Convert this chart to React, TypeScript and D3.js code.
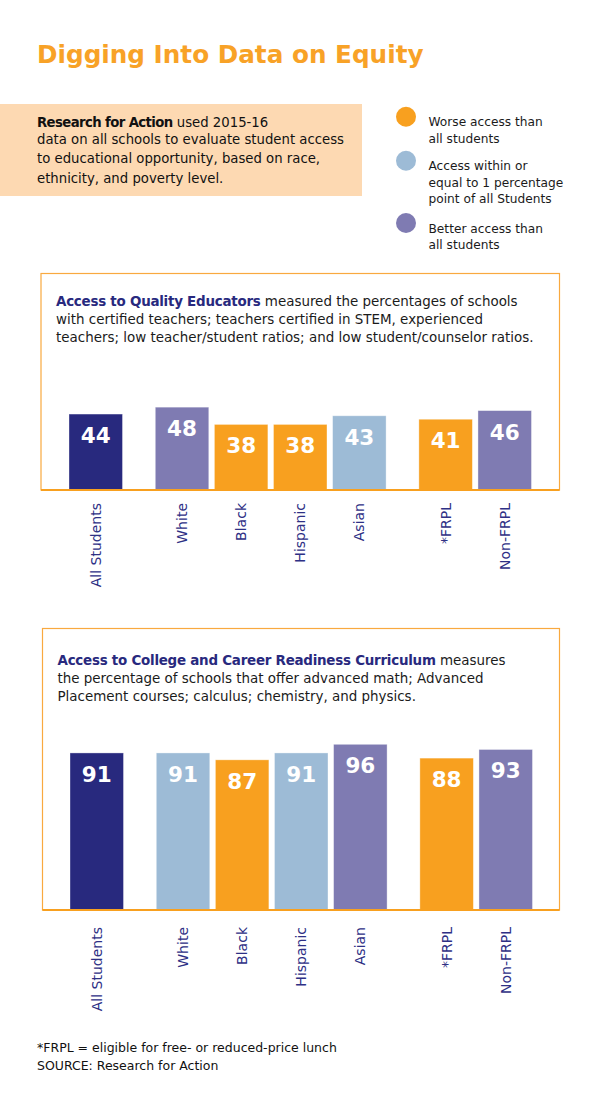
import * as d3 from "d3";

// --- data ---
const categories = ["All Students", "White", "Black", "Hispanic", "Asian", "*FRPL", "Non-FRPL"];
const categoryGroup = [0, 1, 1, 1, 1, 2, 2];

const educatorsValues = [44, 48, 38, 38, 43, 41, 46];
const educatorsAccess = ["all", "better", "worse", "worse", "within", "worse", "better"];

const curriculumValues = [91, 91, 87, 91, 96, 88, 93];
const curriculumAccess = ["all", "within", "worse", "within", "better", "worse", "better"];

const legendKeys = ["worse", "within", "better"];
const legendLines = [
  ["Worse access than", "all students"],
  ["Access within or", "equal to 1 percentage", "point of all Students"],
  ["Better access than", "all students"],
];

const introLines = [
  "data on all schools to evaluate student access",
  "to educational opportunity, based on race,",
  "ethnicity, and poverty level.",
];

const FONT = "'DejaVu Sans', sans-serif";
const NAVY = "#28297E";
const ORANGE = "#F8A01F";

const color = d3
  .scaleOrdinal<string, string>()
  .domain(["all", "worse", "within", "better"])
  .range([NAVY, ORANGE, "#9DBBD6", "#7F7BB2"]);

type PanelProps = {
  left: number;
  top: number;
  base: number;
  barX0: number;
  labelGap: number;
  textTop: number;
  bold: string;
  rest: string;
  lines: string[];
  values: number[];
  access: string[];
};

const BAR = { step: 59.1, width: 53.5, groupGap: 0.46, pxPer100: 172.6 };
const PANEL_RIGHT = 559.5;
const PANEL_FONT = 13.45;

function Panel(p: PanelProps) {
  const slot = d3.scaleLinear().domain([0, 1]).range([p.barX0, p.barX0 + BAR.step]);
  const y = d3.scaleLinear().domain([0, 100]).range([p.base, p.base - BAR.pxPer100]);
  const xOf = (i: number) => slot(i + categoryGroup[i] * BAR.groupGap);

  return (
    <g>
      <rect
        x={p.left}
        y={p.top}
        width={PANEL_RIGHT - p.left}
        height={p.base - p.top}
        fill="#fff"
        stroke="#F9A93F"
        strokeWidth={1.2}
      />
      <text x={p.left + 15} y={p.textTop} fontFamily={FONT} fontSize={PANEL_FONT} fill="#1b1b1b">
        <tspan fontWeight="bold" fill={NAVY} letterSpacing={-0.25}>
          {p.bold}
        </tspan>
        <tspan>{p.rest}</tspan>
      </text>
      {p.lines.map((l, i) => (
        <text
          key={i}
          x={p.left + 15}
          y={p.textTop + (i + 1) * 18}
          fontFamily={FONT}
          fontSize={PANEL_FONT}
          fill="#1b1b1b"
        >
          {l}
        </text>
      ))}
      {p.values.map((v, i) => (
        <g key={i}>
          <rect
            x={xOf(i)}
            y={y(v)}
            width={BAR.width}
            height={p.base - y(v)}
            fill={color(p.access[i])}
            stroke="#ffffff"
            strokeOpacity={0.45}
            strokeWidth={0.8}
          />
          <text
            x={xOf(i) + BAR.width / 2}
            y={y(v) + 29}
            textAnchor="middle"
            fontFamily={FONT}
            fontWeight="bold"
            fontSize={21.5}
            fill="#fff"
          >
            {v}
          </text>
          <text
            transform={`translate(${xOf(i) + BAR.width / 2},${p.base + p.labelGap}) rotate(-90)`}
            textAnchor="end"
            dy="0.36em"
            fontFamily={FONT}
            fontSize={14}
            fill="#2E3085"
          >
            {categories[i]}
          </text>
        </g>
      ))}
      <line x1={p.left} x2={PANEL_RIGHT} y1={p.base} y2={p.base} stroke={ORANGE} strokeWidth={2} />
    </g>
  );
}

export default function App() {
  return (
    <svg
      width={600}
      height={1100}
      style={{ position: "absolute", left: 0, top: 0, background: "#fff" }}
    >
      <rect width={600} height={1100} fill="#fff" />
      <text x={37} y={63} fontFamily={FONT} fontWeight="bold" fontSize={24.7} fill="#F8A227">
        Digging Into Data on Equity
      </text>

      {/* intro box */}
      <rect x={0} y={104} width={362} height={92} fill="#FDD9B2" />
      <text x={37} y={126.7} fontFamily={FONT} fontSize={13.25} fill="#111">
        <tspan fontWeight="bold" letterSpacing={-0.6}>
          Research for Action
        </tspan>
        <tspan> used 2015-16</tspan>
      </text>
      {introLines.map((l, i) => (
        <text key={i} x={37} y={[144.3, 162.5, 182.5][i]} fontFamily={FONT} fontSize={13.25} fill="#111">
          {l}
        </text>
      ))}

      {/* legend */}
      {legendKeys.map((k, i) => {
        const cy = [116.7, 160.7, 223][i];
        return (
          <g key={k}>
            <circle cx={406} cy={cy} r={10} fill={color(k)} />
            {legendLines[i].map((l, j) => (
              <text
                key={j}
                x={428.5}
                y={cy + 9.5 + j * 16.6}
                fontFamily={FONT}
                fontSize={12.2}
                fill="#1b1b1b"
              >
                {l}
              </text>
            ))}
          </g>
        );
      })}

      <Panel
        left={41}
        top={273.5}
        base={490}
        barX0={69}
        labelGap={13}
        textTop={305.5}
        bold="Access to Quality Educators"
        rest=" measured the percentages of schools"
        lines={[
          "with certified teachers; teachers certified in STEM, experienced",
          "teachers; low teacher/student ratios; and low student/counselor ratios.",
        ]}
        values={educatorsValues}
        access={educatorsAccess}
      />
      <Panel
        left={42.5}
        top={628.5}
        base={910}
        barX0={70}
        labelGap={17}
        textTop={665}
        bold="Access to College and Career Readiness Curriculum"
        rest=" measures"
        lines={[
          "the percentage of schools that offer advanced math; Advanced",
          "Placement courses; calculus; chemistry, and physics.",
        ]}
        values={curriculumValues}
        access={curriculumAccess}
      />

      <text x={37} y={1051.7} fontFamily={FONT} fontSize={12.5} fill="#111">
        *FRPL = eligible for free- or reduced-price lunch
      </text>
      <text x={37} y={1070} fontFamily={FONT} fontSize={12.5} fill="#111">
        SOURCE: Research for Action
      </text>
    </svg>
  );
}
